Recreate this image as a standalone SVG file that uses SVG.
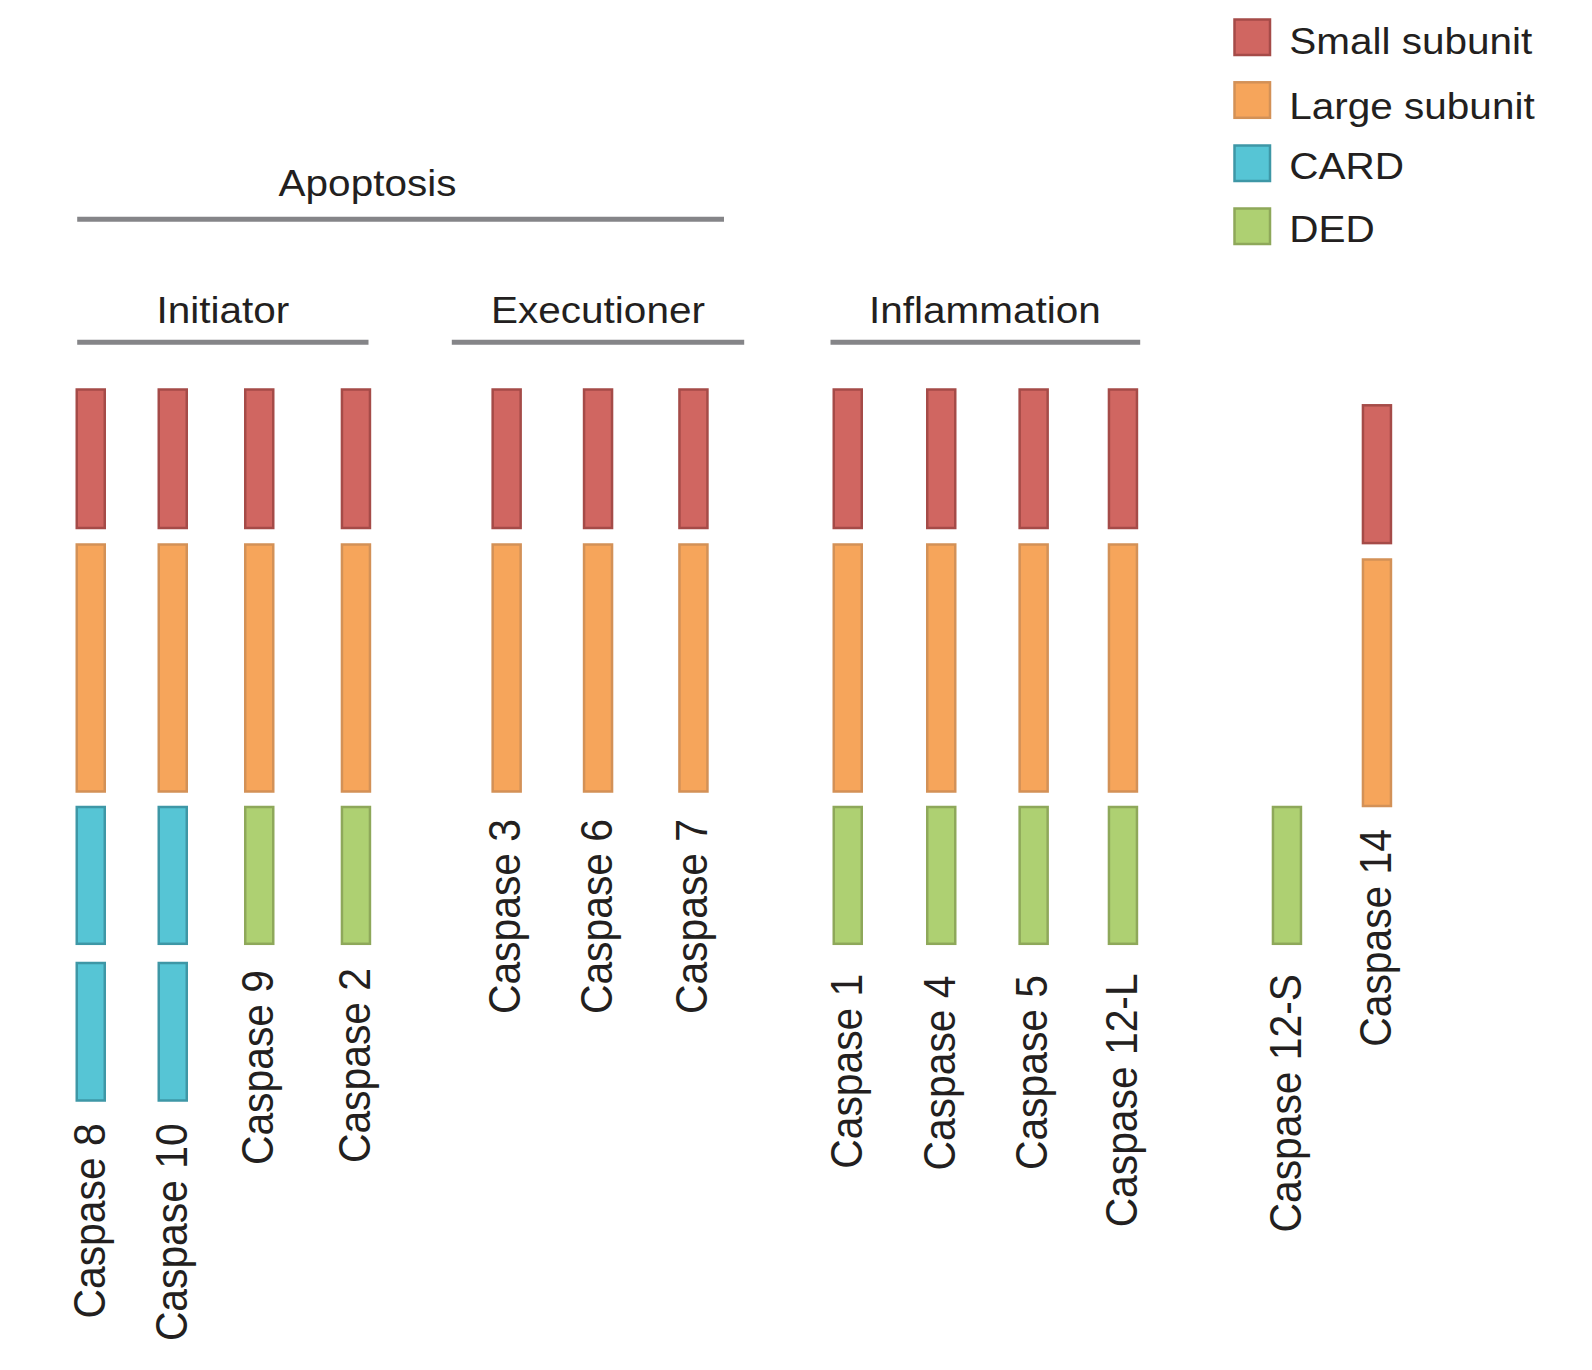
<svg xmlns="http://www.w3.org/2000/svg" width="1592" height="1370" viewBox="0 0 1592 1370">
<style>
text{font-family:"Liberation Sans",Arial,Helvetica,sans-serif;fill:#231f20}
.h{font-size:37.5px;text-anchor:middle}
.lgd{font-size:37.5px}
.lab{font-size:40.8px;text-anchor:end}
.bar{stroke-width:2.5}
.sm{fill:#D06661;stroke:#A54B48}
.lg{fill:#F6A55B;stroke:#D39157}
.card{fill:#56C5D5;stroke:#3E97A6}
.ded{fill:#AED072;stroke:#8EA85A}
.rule{stroke:#858588;stroke-width:5;fill:none}
</style>
<rect width="1592" height="1370" fill="#ffffff"/>
<g id="legend">
<rect class="bar sm" x="1234.5" y="19.5" width="35.5" height="35.5"/>
<rect class="bar lg" x="1234.5" y="82.3" width="35.5" height="35.5"/>
<rect class="bar card" x="1234.5" y="145.5" width="35.5" height="35.5"/>
<rect class="bar ded" x="1234.5" y="208.5" width="35.5" height="35.5"/>
<text class="lgd" transform="translate(1289.3,54.3) scale(1.08,1)">Small subunit</text>
<text class="lgd" transform="translate(1289.3,119.3) scale(1.08,1)">Large subunit</text>
<text class="lgd" transform="translate(1289.3,179) scale(1.08,1)">CARD</text>
<text class="lgd" transform="translate(1289.3,242.3) scale(1.08,1)">DED</text>
</g>
<g id="headers">
<text class="h" transform="translate(367.5,196) scale(1.08,1)">Apoptosis</text>
<text class="h" transform="translate(222.9,323) scale(1.08,1)">Initiator</text>
<text class="h" transform="translate(598,323) scale(1.08,1)">Executioner</text>
<text class="h" transform="translate(984.8,323) scale(1.08,1)">Inflammation</text>
</g>
<g id="connectors">
<line class="rule" x1="77.2" y1="219.3" x2="724" y2="219.3"/>
<line class="rule" x1="77.2" y1="342.2" x2="368.5" y2="342.2"/>
<line class="rule" x1="451.8" y1="342.2" x2="744.2" y2="342.2"/>
<line class="rule" x1="830.5" y1="342.2" x2="1140.2" y2="342.2"/>
</g>
<g id="caspase8">
<rect class="bar sm" x="76.75" y="389.5" width="28" height="138.5"/>
<rect class="bar lg" x="76.75" y="544.5" width="28" height="247"/>
<rect class="bar card" x="76.75" y="807" width="28" height="136.8"/>
<rect class="bar card" x="76.75" y="963" width="28" height="137.5"/>
<text class="lab" transform="translate(104.5,1123.4) scale(1.08,1) rotate(-90)">Caspase 8</text>
</g>
<g id="caspase10">
<rect class="bar sm" x="158.75" y="389.5" width="28" height="138.5"/>
<rect class="bar lg" x="158.75" y="544.5" width="28" height="247"/>
<rect class="bar card" x="158.75" y="807" width="28" height="136.8"/>
<rect class="bar card" x="158.75" y="963" width="28" height="137.5"/>
<text class="lab" transform="translate(186.5,1123.4) scale(1.08,1) rotate(-90)">Caspase 10</text>
</g>
<g id="caspase9">
<rect class="bar sm" x="245.25" y="389.5" width="28" height="138.5"/>
<rect class="bar lg" x="245.25" y="544.5" width="28" height="247"/>
<rect class="bar ded" x="245.25" y="807" width="28" height="136.8"/>
<text class="lab" transform="translate(273,970) scale(1.08,1) rotate(-90)">Caspase 9</text>
</g>
<g id="caspase2">
<rect class="bar sm" x="341.95" y="389.5" width="28" height="138.5"/>
<rect class="bar lg" x="341.95" y="544.5" width="28" height="247"/>
<rect class="bar ded" x="341.95" y="807" width="28" height="136.8"/>
<text class="lab" transform="translate(369.7,968) scale(1.08,1) rotate(-90)">Caspase 2</text>
</g>
<g id="caspase3">
<rect class="bar sm" x="492.65" y="389.5" width="28" height="138.5"/>
<rect class="bar lg" x="492.65" y="544.5" width="28" height="247"/>
<text class="lab" transform="translate(520.4,819) scale(1.08,1) rotate(-90)">Caspase 3</text>
</g>
<g id="caspase6">
<rect class="bar sm" x="584.05" y="389.5" width="28" height="138.5"/>
<rect class="bar lg" x="584.05" y="544.5" width="28" height="247"/>
<text class="lab" transform="translate(611.8,819) scale(1.08,1) rotate(-90)">Caspase 6</text>
</g>
<g id="caspase7">
<rect class="bar sm" x="679.45" y="389.5" width="28" height="138.5"/>
<rect class="bar lg" x="679.45" y="544.5" width="28" height="247"/>
<text class="lab" transform="translate(707.2,819) scale(1.08,1) rotate(-90)">Caspase 7</text>
</g>
<g id="caspase1">
<rect class="bar sm" x="833.75" y="389.5" width="28" height="138.5"/>
<rect class="bar lg" x="833.75" y="544.5" width="28" height="247"/>
<rect class="bar ded" x="833.75" y="807" width="28" height="136.8"/>
<text class="lab" transform="translate(861.5,973.7) scale(1.08,1) rotate(-90)">Caspase 1</text>
</g>
<g id="caspase4">
<rect class="bar sm" x="927.25" y="389.5" width="28" height="138.5"/>
<rect class="bar lg" x="927.25" y="544.5" width="28" height="247"/>
<rect class="bar ded" x="927.25" y="807" width="28" height="136.8"/>
<text class="lab" transform="translate(955,975.5) scale(1.08,1) rotate(-90)">Caspase 4</text>
</g>
<g id="caspase5">
<rect class="bar sm" x="1019.65" y="389.5" width="28" height="138.5"/>
<rect class="bar lg" x="1019.65" y="544.5" width="28" height="247"/>
<rect class="bar ded" x="1019.65" y="807" width="28" height="136.8"/>
<text class="lab" transform="translate(1047.4,975) scale(1.08,1) rotate(-90)">Caspase 5</text>
</g>
<g id="caspase12L">
<rect class="bar sm" x="1108.95" y="389.5" width="28" height="138.5"/>
<rect class="bar lg" x="1108.95" y="544.5" width="28" height="247"/>
<rect class="bar ded" x="1108.95" y="807" width="28" height="136.8"/>
<text class="lab" transform="translate(1136.7,973.4) scale(1.08,1) rotate(-90)">Caspase 12-L</text>
</g>
<g id="caspase12S">
<rect class="bar ded" x="1272.95" y="807" width="28" height="136.8"/>
<text class="lab" transform="translate(1300.7,974) scale(1.08,1) rotate(-90)">Caspase 12-S</text>
</g>
<g id="caspase14">
<rect class="bar sm" x="1362.95" y="405.3" width="28" height="137.8"/>
<rect class="bar lg" x="1362.95" y="559.5" width="28" height="246.5"/>
<text class="lab" transform="translate(1390.7,829) scale(1.08,1) rotate(-90)">Caspase 14</text>
</g>
</svg>
